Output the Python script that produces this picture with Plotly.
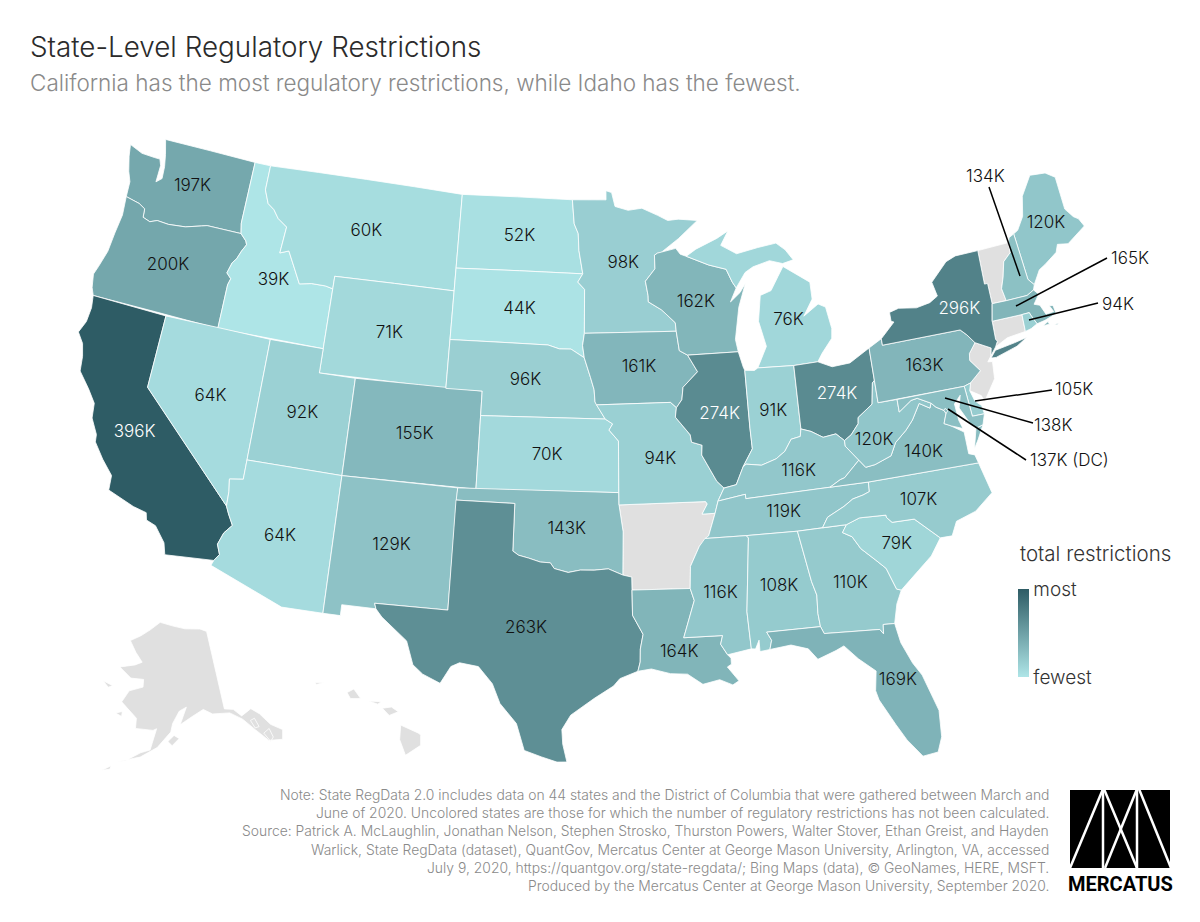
import plotly.graph_objects as go

# state outlines as (lon, lat); there is no topojson offline, so they are given here
STATE_SHAPES = {
    "WA": [[(-124.73,48.38),(-124.6,47.9),(-124.35,47.3),(-124.1,46.9),(-124.05,46.27),(-123.2,46.15),(-122.8,46.0),(-122.75,45.65),(-122.3,45.55),(-121.9,45.68),(-121.2,45.65),(-120.2,45.73),(-119.3,45.93),(-118.98,46.0),(-116.92,46.0),(-117.04,46.42),(-117.03,49),(-122.75,49),(-122.5,48.4),(-122.35,47.9),(-122.3,47.4),(-122.6,47.2),(-122.6,47.9),(-122.75,48.15),(-123.1,48.15),(-123.9,48.17)]],
    "OR": [[(-124.05,46.27),(-123.95,45.5),(-124.07,44.7),(-124.15,43.9),(-124.4,43.2),(-124.55,42.84),(-124.4,42.3),(-124.21,42),(-117.03,42),(-117.03,43.83),(-116.93,44.1),(-117.22,44.3),(-117.05,44.75),(-116.85,44.95),(-116.67,45.3),(-116.46,45.6),(-116.55,45.75),(-116.92,46),(-118.98,46),(-119.3,45.93),(-120.2,45.73),(-121.2,45.65),(-121.9,45.68),(-122.3,45.55),(-122.75,45.65),(-122.8,46),(-123.2,46.15)]],
    "CA": [[(-124.21,42),(-124.1,41.5),(-124.15,40.9),(-124.4,40.4),(-124,40),(-123.8,39.5),(-123.7,38.9),(-123,38.3),(-122.5,37.8),(-122.4,37.2),(-121.95,36.6),(-121.9,36.3),(-121.3,35.7),(-120.65,35.15),(-120.6,34.55),(-119.2,34.15),(-118.5,34.03),(-118.4,33.74),(-117.9,33.6),(-117.3,33),(-117.13,32.53),(-114.72,32.72),(-114.5,33),(-114.7,33.4),(-114.5,33.9),(-114.15,34.27),(-114.45,34.7),(-114.63,35),(-120,39),(-120,42)]],
    "ID": [[(-117.03,49),(-116.05,49),(-116.05,47.98),(-115.72,47.45),(-115.3,47.25),(-114.95,46.93),(-114.35,46.65),(-114.45,45.55),(-113.95,45.7),(-113.45,45.05),(-113,44.45),(-112.3,44.55),(-111.5,44.55),(-111.05,44.48),(-111.05,42),(-117.03,42),(-117.03,43.83),(-116.93,44.1),(-117.22,44.3),(-117.05,44.75),(-116.85,44.95),(-116.67,45.3),(-116.46,45.6),(-116.55,45.75),(-116.92,46),(-117.04,46.42)]],
    "NV": [[(-120,42),(-114.04,42),(-114.05,36.2),(-114.75,36.1),(-114.65,35.6),(-114.63,35),(-120,39)]],
    "MT": [[(-116.05,49),(-104.05,49),(-104.05,45),(-111.05,45),(-111.05,44.48),(-111.5,44.55),(-112.3,44.55),(-113,44.45),(-113.45,45.05),(-113.95,45.7),(-114.45,45.55),(-114.35,46.65),(-114.95,46.93),(-115.3,47.25),(-115.72,47.45),(-116.05,47.98)]],
    "WY": [[(-111.05,45),(-104.05,45),(-104.05,41),(-111.05,41)]],
    "UT": [[(-114.04,42),(-111.05,42),(-111.05,41),(-109.05,41),(-109.05,37),(-114.05,37)]],
    "CO": [[(-109.05,41),(-102.05,41),(-102.05,37),(-109.05,37)]],
    "AZ": [[(-114.05,37),(-109.05,37),(-109.05,31.33),(-111.07,31.33),(-114.81,32.5),(-114.72,32.72),(-114.5,33),(-114.7,33.4),(-114.5,33.9),(-114.15,34.27),(-114.45,34.7),(-114.63,35),(-114.65,35.6),(-114.75,36.1),(-114.05,36.2)]],
    "NM": [[(-109.05,37),(-103,37),(-103.04,32),(-106.62,32),(-106.53,31.78),(-108.2,31.78),(-108.2,31.33),(-109.05,31.33)]],
    "TX": [[(-103.04,36.5),(-100,36.5),(-100,34.56),(-99.7,34.4),(-99.2,34.3),(-98.6,34.15),(-98.1,34.13),(-97.9,33.9),(-97.2,33.75),(-96.6,33.85),(-95.9,33.85),(-95.2,33.9),(-94.48,33.64),(-94.04,33.55),(-94.04,31.99),(-93.55,31.2),(-93.7,30.6),(-93.72,30.07),(-93.84,29.69),(-94.7,29.4),(-95,29.1),(-95.9,28.6),(-97,27.9),(-97.4,27.3),(-97.35,26.7),(-97.15,25.96),(-97.6,25.95),(-98.3,26.15),(-99.1,26.4),(-99.5,27.5),(-100.3,28.3),(-100.7,29.1),(-101.4,29.77),(-102.3,29.88),(-102.7,29.7),(-103.15,28.98),(-104,29.3),(-104.5,29.65),(-104.9,30.6),(-106.2,31.47),(-106.53,31.78),(-106.62,32),(-103.04,32)]],
    "OK": [[(-103,37),(-94.62,37),(-94.62,36.5),(-94.43,35.4),(-94.48,33.64),(-95.2,33.9),(-95.9,33.85),(-96.6,33.85),(-97.2,33.75),(-97.9,33.9),(-98.1,34.13),(-98.6,34.15),(-99.2,34.3),(-99.7,34.4),(-100,34.56),(-100,36.5),(-103.03,36.5)]],
    "KS": [[(-102.05,40),(-95.3,40),(-94.9,39.8),(-95.1,39.55),(-94.6,39.1),(-94.62,37),(-102.05,37)]],
    "NE": [[(-104.05,43),(-98.5,43),(-97.85,42.85),(-97.2,42.85),(-96.45,42.5),(-96.1,41.7),(-95.9,41.2),(-95.85,40.7),(-95.3,40),(-102.05,40),(-102.05,41),(-104.05,41)]],
    "SD": [[(-104.05,45.94),(-96.56,45.94),(-96.85,45.6),(-96.45,45.3),(-96.45,43.5),(-96.55,43),(-96.45,42.5),(-97.2,42.85),(-97.85,42.85),(-98.5,43),(-104.05,43)]],
    "ND": [[(-104.05,49),(-97.23,49),(-97.1,48),(-96.85,47.6),(-96.8,46.9),(-96.56,45.94),(-104.05,45.94)]],
    "MN": [[(-97.23,49),(-95.15,49),(-95.15,49.38),(-94.8,49.3),(-94.6,48.72),(-93.8,48.55),(-92.95,48.62),(-92,48.3),(-91.4,48.07),(-90.75,48.1),(-89.6,48),(-90.8,47.3),(-91.9,46.75),(-92.1,46.74),(-92.29,46.66),(-92.29,46.1),(-92.88,45.6),(-92.75,45),(-92.75,44.75),(-92,44.4),(-91.25,43.85),(-91.22,43.5),(-96.45,43.5),(-96.45,45.3),(-96.85,45.6),(-96.56,45.94),(-96.8,46.9),(-96.85,47.6),(-97.1,48)]],
    "IA": [[(-96.45,43.5),(-91.22,43.5),(-91.1,42.7),(-90.65,42.5),(-90.15,41.8),(-91,41.2),(-91.1,40.7),(-91.42,40.38),(-91.73,40.61),(-95.77,40.58),(-95.85,40.7),(-95.9,41.2),(-96.1,41.7),(-96.45,42.5),(-96.55,43)]],
    "MO": [[(-95.77,40.58),(-91.73,40.61),(-91.42,40.38),(-91.5,40),(-90.75,39.25),(-90.7,38.95),(-90.15,38.8),(-90.2,38.4),(-89.5,37.3),(-89.15,37),(-89.5,36.5),(-89.7,36),(-90.37,36),(-90.07,36.4),(-90.15,36.5),(-94.62,36.5),(-94.62,37),(-94.6,39.1),(-95.1,39.55),(-94.9,39.8),(-95.3,40)]],
    "AR": [[(-94.62,36.5),(-90.15,36.5),(-90.07,36.4),(-90.37,36),(-89.7,36),(-90.1,35.1),(-90.6,34.7),(-91.1,33.9),(-91.17,33),(-94.04,33.02),(-94.04,33.55),(-94.48,33.64),(-94.43,35.4)]],
    "LA": [[(-94.04,33.02),(-91.17,33),(-91,32.5),(-91.6,31),(-89.73,31),(-89.85,30.65),(-89.55,30.2),(-89.4,30.05),(-89.4,29.8),(-89.6,29.7),(-89.1,29.1),(-89.4,28.95),(-90,29.2),(-90.8,29.05),(-91.5,29.5),(-92.3,29.55),(-93.2,29.77),(-93.84,29.69),(-93.72,30.07),(-93.7,30.6),(-93.55,31.2),(-94.04,31.99)]],
    "MS": [[(-90.3,35),(-88.2,35),(-88.1,34.9),(-88.47,31.9),(-88.4,30.37),(-89.55,30.2),(-89.85,30.65),(-89.73,31),(-91.6,31),(-91,32.5),(-91.17,33),(-91.1,33.9),(-90.6,34.7)]],
    "AL": [[(-88.2,35),(-85.6,34.98),(-85.18,32.87),(-85,32.3),(-85.05,31.55),(-85,31),(-87.6,31),(-87.4,30.65),(-87.52,30.28),(-88,30.23),(-88,30.7),(-88.2,30.35),(-88.4,30.37),(-88.47,31.9),(-88.1,34.9)]],
    "FL": [[(-87.6,31),(-85,31),(-84.86,30.7),(-82.2,30.57),(-82.05,30.37),(-82,30.75),(-81.45,30.72),(-81.3,29.9),(-80.9,29),(-80.55,28.45),(-80.05,26.9),(-80.13,25.8),(-80.4,25.2),(-81.1,25.13),(-81.7,25.9),(-82.1,26.6),(-82.7,27.7),(-82.8,28.1),(-82.65,28.9),(-83.4,29.5),(-84,30.1),(-84.4,29.95),(-85.3,29.68),(-85.7,30.15),(-86.5,30.38),(-87.52,30.28),(-87.4,30.65)]],
    "GA": [[(-85.6,34.98),(-83.1,35),(-83.35,34.7),(-82.9,34.48),(-82.55,33.95),(-81.9,33.4),(-81.45,33),(-81.1,32.1),(-80.88,32.03),(-81.2,31.5),(-81.45,30.72),(-82,30.75),(-82.05,30.37),(-82.2,30.57),(-84.86,30.7),(-85,31),(-85.05,31.55),(-85,32.3),(-85.18,32.87)]],
    "SC": [[(-83.1,35),(-82.4,35.2),(-81.05,35.15),(-81.04,35.05),(-80.8,34.82),(-79.67,34.8),(-78.55,33.86),(-79.15,33.2),(-79.9,32.7),(-80.88,32.03),(-81.1,32.1),(-81.45,33),(-81.9,33.4),(-82.55,33.95),(-82.9,34.48),(-83.35,34.7)]],
    "NC": [[(-84.32,35),(-83.1,35),(-82.4,35.2),(-81.05,35.15),(-81.04,35.05),(-80.8,34.82),(-79.67,34.8),(-78.55,33.86),(-77.95,33.85),(-77.6,34.4),(-76.55,34.65),(-75.55,35.25),(-75.9,36.55),(-81.68,36.59),(-81.7,36.2),(-82.05,36.1),(-82.6,36),(-83.1,35.75),(-84,35.4)]],
    "TN": [[(-90.3,35),(-88.2,35),(-85.6,34.98),(-84.32,35),(-84,35.4),(-83.1,35.75),(-82.6,36),(-82.05,36.1),(-81.7,36.2),(-81.68,36.59),(-83.68,36.6),(-88.07,36.5),(-88.07,36.68),(-89.42,36.5),(-89.5,36.5),(-89.7,36),(-90.1,35.1)]],
    "KY": [[(-89.42,36.5),(-88.07,36.68),(-88.07,36.5),(-83.68,36.6),(-83.1,36.85),(-82.87,36.9),(-82,37.53),(-82.6,38.17),(-82.6,38.4),(-83,38.72),(-83.7,38.65),(-84.3,38.95),(-84.82,39.1),(-84.9,38.8),(-85.4,38.73),(-85.8,38.27),(-86.3,38),(-87.1,37.8),(-87.9,37.9),(-88.07,37.8),(-88.5,37.1),(-89.15,37),(-89.5,36.5)]],
    "WV": [[(-82.6,38.4),(-82.6,38.17),(-82,37.53),(-81.7,37.2),(-81.2,37.25),(-80.3,37.5),(-79.95,38),(-79.3,38.42),(-78.87,38.78),(-78.35,39.4),(-77.83,39.13),(-77.72,39.32),(-78.4,39.62),(-78.75,39.58),(-79.48,39.2),(-79.48,39.72),(-80.52,39.72),(-80.52,40.64),(-80.65,40.55),(-80.85,39.7),(-81.7,39.25),(-81.75,39),(-82.2,38.6)]],
    "VA": [[(-83.68,36.6),(-81.68,36.59),(-75.9,36.55),(-76,36.9),(-76.3,37),(-76.3,37.6),(-76.3,37.9),(-77,38.3),(-77.25,38.4),(-77.04,38.79),(-77.12,38.93),(-77.5,39.12),(-77.72,39.32),(-77.83,39.13),(-78.35,39.4),(-78.87,38.78),(-79.3,38.42),(-79.95,38),(-80.3,37.5),(-81.2,37.25),(-81.7,37.2),(-82,37.53),(-82.87,36.9),(-83.1,36.85)],
           [(-75.25,38.03),(-75.65,37.95),(-75.95,37.15),(-75.65,37.5)]],
    "MD": [[(-79.48,39.72),(-75.79,39.72),(-75.7,38.46),(-75.05,38.45),(-75.25,38.03),(-75.65,37.95),(-75.9,38.2),(-76.3,38.9),(-76.1,39.4),(-76.5,39.1),(-76.45,38.4),(-76.32,38.05),(-76.9,38.25),(-77.25,38.4),(-77.04,38.79),(-77.12,38.93),(-77.5,39.12),(-77.72,39.32),(-78.4,39.62),(-78.75,39.58),(-79.48,39.2)]],
    "DE": [[(-75.79,39.72),(-75.42,39.8),(-75.55,39.5),(-75.4,39.05),(-75.1,38.8),(-75.05,38.45),(-75.7,38.46)]],
    "DC": [[(-77.12,38.93),(-77.04,39),(-76.91,38.89),(-77.04,38.79)]],
    "PA": [[(-80.52,41.98),(-79.76,42.27),(-79.76,42),(-75.35,42),(-75.05,41.75),(-74.7,41.36),(-75.13,40.98),(-75.2,40.7),(-74.75,40.2),(-75.42,39.8),(-75.79,39.72),(-80.52,39.72)]],
    "NY": [[(-79.76,42.27),(-79.76,42),(-75.35,42),(-75.05,41.75),(-74.7,41.36),(-73.9,41),(-74,40.7),(-73.65,41),(-73.48,41.21),(-73.55,41.3),(-73.5,42.05),(-73.27,42.75),(-73.25,43.6),(-73.43,43.6),(-73.35,45),(-74.7,45),(-75.3,44.85),(-76.35,44.15),(-76.2,43.55),(-76.7,43.35),(-77.5,43.25),(-78.5,43.37),(-79.05,43.27),(-79.05,42.9),(-78.9,42.85)],
           [(-74.03,40.6),(-73.75,40.58),(-72.5,40.82),(-71.87,41.07),(-72.6,40.98),(-73.7,40.87)]],
    "NJ": [[(-74.7,41.36),(-73.9,41),(-74,40.7),(-74.25,40.48),(-74,40.45),(-74.1,39.75),(-74.9,38.93),(-75,39.2),(-75.55,39.5),(-75.42,39.8),(-74.75,40.2),(-75.2,40.7),(-75.13,40.98)]],
    "CT": [[(-73.5,42.05),(-71.8,42.02),(-71.85,41.32),(-72.9,41.25),(-73.65,41),(-73.48,41.21),(-73.55,41.3)]],
    "RI": [[(-71.8,42.02),(-71.38,42.02),(-71.33,41.9),(-71.12,41.5),(-71.5,41.37),(-71.85,41.32)]],
    "MA": [[(-73.5,42.05),(-71.8,42.02),(-71.38,42.02),(-71.33,41.9),(-71.12,41.5),(-70.65,41.55),(-69.95,41.7),(-70,42.05),(-70.2,42.08),(-70.05,41.8),(-70.5,41.78),(-70.7,42.2),(-71,42.3),(-70.6,42.65),(-70.82,42.87),(-71.25,42.72),(-72.46,42.73),(-73.27,42.75)],
           [(-70.83,41.36),(-70.5,41.47),(-70.47,41.35)],
           [(-70.22,41.28),(-69.97,41.3),(-70.05,41.24)]],
    "VT": [[(-73.27,42.75),(-72.46,42.73),(-72.55,43.25),(-72.3,43.7),(-72.05,44.3),(-71.55,44.6),(-71.5,45.01),(-73.35,45),(-73.43,43.6),(-73.25,43.6)]],
    "NH": [[(-72.46,42.73),(-71.25,42.72),(-70.82,42.87),(-70.7,43.07),(-70.97,43.35),(-71.08,45.3),(-71.4,45.2),(-71.5,45.01),(-71.55,44.6),(-72.05,44.3),(-72.3,43.7),(-72.55,43.25)]],
    "ME": [[(-70.7,43.07),(-70.2,43.6),(-69.8,43.75),(-69,44.1),(-68.8,44.4),(-68.2,44.3),(-67,44.8),(-67.2,45.15),(-67.45,45.3),(-67.8,45.7),(-67.79,47.07),(-68.3,47.36),(-69.05,47.43),(-69.22,47.45),(-70,46.7),(-70.3,45.9),(-70.8,45.4),(-71.08,45.3),(-70.97,43.35)]],
    "OH": [[(-84.82,39.1),(-84.8,41.7),(-83.45,41.73),(-82.7,41.45),(-81.7,41.5),(-80.52,41.98),(-80.52,40.64),(-80.65,40.55),(-80.85,39.7),(-81.7,39.25),(-81.75,39),(-82.2,38.6),(-82.6,38.4),(-83,38.72),(-83.7,38.65),(-84.3,38.95)]],
    "IN": [[(-87.53,41.71),(-87,41.67),(-86.8,41.76),(-84.8,41.7),(-84.82,39.1),(-84.9,38.8),(-85.4,38.73),(-85.8,38.27),(-86.3,38),(-87.1,37.8),(-87.9,37.9),(-88.07,37.8),(-87.5,38.5),(-87.53,39.35)]],
    "IL": [[(-90.65,42.5),(-87.8,42.49),(-87.6,41.85),(-87.53,41.71),(-87.53,39.35),(-87.5,38.5),(-88.07,37.8),(-88.5,37.1),(-89.15,37),(-89.5,37.3),(-90.2,38.4),(-90.15,38.8),(-90.7,38.95),(-90.75,39.25),(-91.5,40),(-91.42,40.38),(-91.1,40.7),(-91,41.2),(-90.15,41.8)]],
    "WI": [[(-92.29,46.66),(-92.1,46.74),(-91,46.9),(-90.75,46.65),(-90.4,46.55),(-89.1,46.13),(-88.1,45.9),(-87.8,45.35),(-87.6,45.1),(-88,44.55),(-87.4,44.9),(-87.05,45.25),(-87.55,44.3),(-87.9,43),(-87.8,42.49),(-90.65,42.5),(-91.1,42.7),(-91.22,43.5),(-91.25,43.85),(-92,44.4),(-92.75,44.75),(-92.75,45),(-92.88,45.6),(-92.29,46.1)]],
    "MI": [[(-90.4,46.55),(-89.8,46.82),(-88.5,47.2),(-87.8,47.47),(-88.3,46.9),(-87.4,46.5),(-86.1,46.67),(-85,46.77),(-84.5,46.45),(-84.1,46),(-84.75,45.9),(-85.5,46.08),(-86.5,45.9),(-87,45.7),(-87.6,45.1),(-87.8,45.35),(-88.1,45.9),(-89.1,46.13)],
           [(-86.8,41.76),(-84.8,41.7),(-83.45,41.73),(-83.15,42.05),(-82.5,42.6),(-82.42,43),(-82.6,43.9),(-83,44.07),(-83.9,43.65),(-83.3,44.3),(-83.3,45),(-84.75,45.78),(-85.1,45.4),(-85.6,44.85),(-86.25,44.7),(-86.5,43.65),(-86.2,42.6)]],
    "AK": [[(-141,69.65),(-143,70.1),(-148,70.4),(-152,70.85),(-156.6,71.35),(-160,70.4),(-163,69.6),(-166.2,68.88),(-164,67.6),(-161.8,66.5),(-163.8,66.1),(-168,65.6),(-164.5,64.5),(-161,64.5),(-161,63.6),(-164.5,63),(-166,61.6),(-162,59.9),(-162,58.7),(-158,58.6),(-157.2,58.8),(-158.5,56.3),(-160.5,55.9),(-163.5,54.8),(-165,54.6),(-160.5,55.4),(-157,56.6),(-154,58.4),(-153.5,59.4),(-151.8,60.8),(-150,61.2),(-151.8,59.2),(-149,60),(-146,60.7),(-144,60),(-140,59.7),(-137.5,58.6),(-135.5,57),(-133.5,55.3),(-130.5,54.8),(-130,55.9),(-132,57),(-133.5,58.6),(-135,59.5),(-137.5,59),(-139,60),(-141,60.3)],
           [(-154.7,57.3),(-153.3,58),(-152.2,57.6),(-153.8,56.8)],
           [(-167,60.2),(-165.5,60.5),(-165.5,59.9)],
           [(-171.7,63.6),(-169,63.3),(-170,63)],
           [(-167.8,53.3),(-166.2,54),(-166.3,53.6)],
           [(-135.9,58.2),(-134.9,58.3),(-134.5,57.2),(-135.4,57.2)],
           [(-134,56.3),(-132.6,56.6),(-132.4,55.5),(-133.2,55.1)]],
    "HI": [[(-155.9,20.2),(-155.1,19.85),(-154.8,19.5),(-155.7,18.95),(-155.95,19.6)],
           [(-156.7,20.9),(-156.3,20.95),(-156,20.75),(-156.4,20.6)],
           [(-157.3,21.2),(-156.75,21.17),(-156.9,21.07)],
           [(-158.25,21.55),(-157.95,21.7),(-157.65,21.3),(-158.1,21.3)],
           [(-159.75,22.1),(-159.4,22.22),(-159.3,21.95),(-159.6,21.88)]],
}
# the reference's insets sit a little off from plotly's albers usa ones
INSET_SHIFT = {"AK": (2.0, 0.0), "HI": (0.5, 0.6)}

states = ["WA","OR","CA","ID","NV","MT","WY","UT","AZ","CO","NM","ND","SD","NE","KS","OK","TX","MN","IA","MO","LA",
          "WI","IL","MI","IN","OH","KY","TN","MS","AL","GA","FL","SC","NC","VA","WV","PA","NY","ME","NH","MA","RI",
          "DE","MD","DC"]
restrictions = [197,200,396,39,64,60,71,92,64,155,129,52,44,96,70,143,263,98,161,94,164,
                162,274,76,91,274,116,119,116,108,110,169,79,107,140,120,163,296,120,134,165,94,
                105,138,137]
uncolored = ["AR","VT","NJ","CT","AK","HI"]

# labels that sit inside their state
label_states = ["WA","OR","CA","ID","NV","MT","WY","UT","AZ","CO","NM","ND","SD","NE","KS","OK","TX","MN","IA","MO","LA",
                "WI","IL","MI","IN","OH","KY","TN","MS","AL","GA","FL","SC","NC","VA","WV","PA","NY","ME"]
label_lon = [-120.4,-120.6,-120.06,-114.5,-116.6,-109.6,-107.5,-111.6,-111.7,-105.5,-106.1,-100.4,-100.2,-99.7,-98.4,-97.3,-99.2,-94.16,-93.4,-92.4,-91.85,
             -90.0,-89.1,-84.8,-86.2,-82.65,-85.2,-86.2,-89.7,-86.8,-83.3,-81.71,-80.75,-79.3,-78.6,-81.05,-77.7,-75.15,-69.1]
label_lat = [47.4,44.0,37.06,44.37,39.2,47.0,43.0,39.23,34.15,39.0,34.4,47.4,44.4,41.5,38.5,35.5,31.4,46.33,42.05,38.3,30.38,
             44.63,40.0,43.54,39.9,40.3,37.37,35.8,32.7,32.8,32.6,28.37,33.9,35.5,37.4,38.23,40.83,42.8,45.35]

title = "State-Level Regulatory Restrictions"
subtitle = "California has the most regulatory restrictions, while Idaho has the fewest."
legend_title = "total restrictions"
note_lines = [
    "Note: State RegData 2.0 includes data on 44 states and the District of Columbia that were gathered between March and",
    "June of 2020. Uncolored states are those for which the number of regulatory restrictions has not been calculated.",
    "Source: Patrick A. McLaughlin, Jonathan Nelson, Stephen Strosko, Thurston Powers, Walter Stover, Ethan Greist, and Hayden",
    "Warlick, State RegData (dataset), QuantGov, Mercatus Center at George Mason University, Arlington, VA, accessed",
    "July 9, 2020, https://quantgov.org/state-regdata/; Bing Maps (data), \u00a9 GeoNames, HERE, MSFT.",
    "Produced by the Mercatus Center at George Mason University, September 2020.",
]

W, H = 1200, 922
PAGE_MARGIN = 8  # the browser's default body margin
FONT = "Inter"


def px(x, y):
    return (x - PAGE_MARGIN) / W, 1 - (y - PAGE_MARGIN) / H


def clockwise(ring, shift=(0, 0)):
    # d3-geo wants exterior rings clockwise
    ring = [(lon + shift[0], lat + shift[1]) for lon, lat in ring]
    closed = ring + [ring[0]]
    area = sum(a[0] * b[1] - b[0] * a[1] for a, b in zip(closed, closed[1:]))
    return closed if area < 0 else closed[::-1]


geojson = {"type": "FeatureCollection", "features": [
    {"type": "Feature", "id": code,
     "geometry": {"type": "MultiPolygon",
                  "coordinates": [[clockwise(r, INSET_SHIFT.get(code, (0, 0)))] for r in rings]}}
    for code, rings in STATE_SHAPES.items()
]}

fig = go.Figure()
# text trace goes first: plotly only checks trace 0 to decide on fetching its topojson
value_by_state = dict(zip(states, restrictions))
fig.add_trace(go.Scattergeo(
    lon=label_lon, lat=label_lat, mode="text",
    text=[f"{value_by_state[s]}K" for s in label_states],
    textfont=dict(family=FONT, size=17, weight=300,
                  color=["white" if value_by_state[s] > 270 else "#111111" for s in label_states]),
    hoverinfo="skip", showlegend=False,
))
fig.add_trace(go.Choropleth(
    geojson=geojson, locationmode="geojson-id", locations=uncolored, z=[0] * len(uncolored),
    colorscale=[[0, "#e0e0e0"], [1, "#e0e0e0"]], showscale=False,
    marker=dict(line=dict(color="white", width=0.8)), hoverinfo="location",
))
fig.add_trace(go.Choropleth(
    geojson=geojson, locationmode="geojson-id", locations=states, z=restrictions,
    colorscale=[[0, "#aee5e7"], [1, "#2e5c65"]], zmin=min(restrictions), zmax=max(restrictions),
    marker=dict(line=dict(color="white", width=0.8)),
    colorbar=dict(
        x=px(1018, 0)[0], xanchor="left", y=px(0, 677)[1], yanchor="bottom", len=88 / H, lenmode="fraction",
        thickness=11, xpad=0, ypad=0, outlinewidth=0, ticks="", ticklen=0,
        tickvals=[min(restrictions), max(restrictions)], ticktext=["fewest", "most"],
        tickfont=dict(family=FONT, size=19, color="#333333", weight=300),
    ),
))

# albers usa takes no center, so the domain is what places the map on the page
fig.update_geos(
    scope="usa", projection=dict(type="albers usa", scale=1.107), domain=dict(x=[0, 0.955], y=[0.039, 1]),
    showland=False, showlakes=False, showcoastlines=False, showsubunits=False, showcountries=False,
    showframe=False, bgcolor="rgba(0,0,0,0)",
)

annotations = [
    dict(text=title, x=px(28, 0)[0], y=px(0, 47)[1], font=dict(size=27.8, color="#2b2b2b", weight=300), xanchor="left"),
    dict(text=subtitle, x=px(28, 0)[0], y=px(0, 82)[1], font=dict(size=22.5, color="#8a8a8a", weight=300), xanchor="left"),
    dict(text=legend_title, x=px(1018, 0)[0], y=px(0, 553)[1], font=dict(size=20.5, color="#333333", weight=300), xanchor="left"),
    dict(text="<b>MERCATUS</b>", x=px(1120, 0)[0], y=px(0, 884)[1], font=dict(size=20, color="black", family="Roboto")),
]
for i, line in enumerate(note_lines):
    annotations.append(dict(text=line, x=px(1051, 0)[0], y=px(0, 795 + i * 18.2)[1],
                            font=dict(size=13.9, color="#8a8a8a", weight=300), xanchor="right"))

callouts = [
    ("134K", (986, 176), (989, 187), (1020, 276)),
    ("165K", (1130, 258), (1107, 258), (1016, 306)),
    ("94K", (1118, 304), (1098, 303), (1029, 320)),
    ("105K", (1074, 389), (1052, 390), (975, 401)),
    ("138K", (1053, 425), (1033, 423), (945, 398)),
    ("137K (DC)", (1069, 460), (1026, 460), (948, 409)),
]
shapes = []


def add_line(start, end, color, width):
    x0, y0 = px(*start)
    x1, y1 = px(*end)
    shapes.append(dict(type="line", xref="paper", yref="paper", x0=x0, y0=y0, x1=x1, y1=y1,
                       line=dict(color=color, width=width)))


for name, (lx, ly), start, end in callouts:
    annotations.append(dict(text=name, x=px(lx, 0)[0], y=px(0, ly)[1], font=dict(size=17, color="#111111", weight=300)))
    add_line(start, end, "black", 1.5)

# logo: black block cut by white strokes
x0, y0 = px(1070, 790)
x1, y1 = px(1170, 868)
shapes.append(dict(type="rect", xref="paper", yref="paper", x0=x0, y0=y0, x1=x1, y1=y1,
                   fillcolor="black", line=dict(width=0)))
logo_strokes = [
    ((1103, 789), (1070, 868)), ((1103, 789), (1103, 868)), ((1104, 789), (1137, 868)),
    ((1137, 789), (1105, 868)), ((1137, 789), (1137, 868)), ((1139, 789), (1171, 868)),
]
for start, end in logo_strokes:
    add_line(start, end, "white", 2.5)

for a in annotations:
    a.update(xref="paper", yref="paper", showarrow=False, yanchor="middle")
    a.setdefault("xanchor", "center")
    a["font"].setdefault("family", FONT)

fig.update_layout(
    width=W, height=H, margin=dict(l=0, r=0, t=0, b=0), autosize=False,
    paper_bgcolor="white", showlegend=False, annotations=annotations, shapes=shapes,
)
# plotly clips the map to its unscaled frame, which would cut off Texas, Florida and Washington
fig.write_html("out.html", post_script="document.querySelectorAll('g.geo').forEach(g => g.removeAttribute('clip-path'));")
